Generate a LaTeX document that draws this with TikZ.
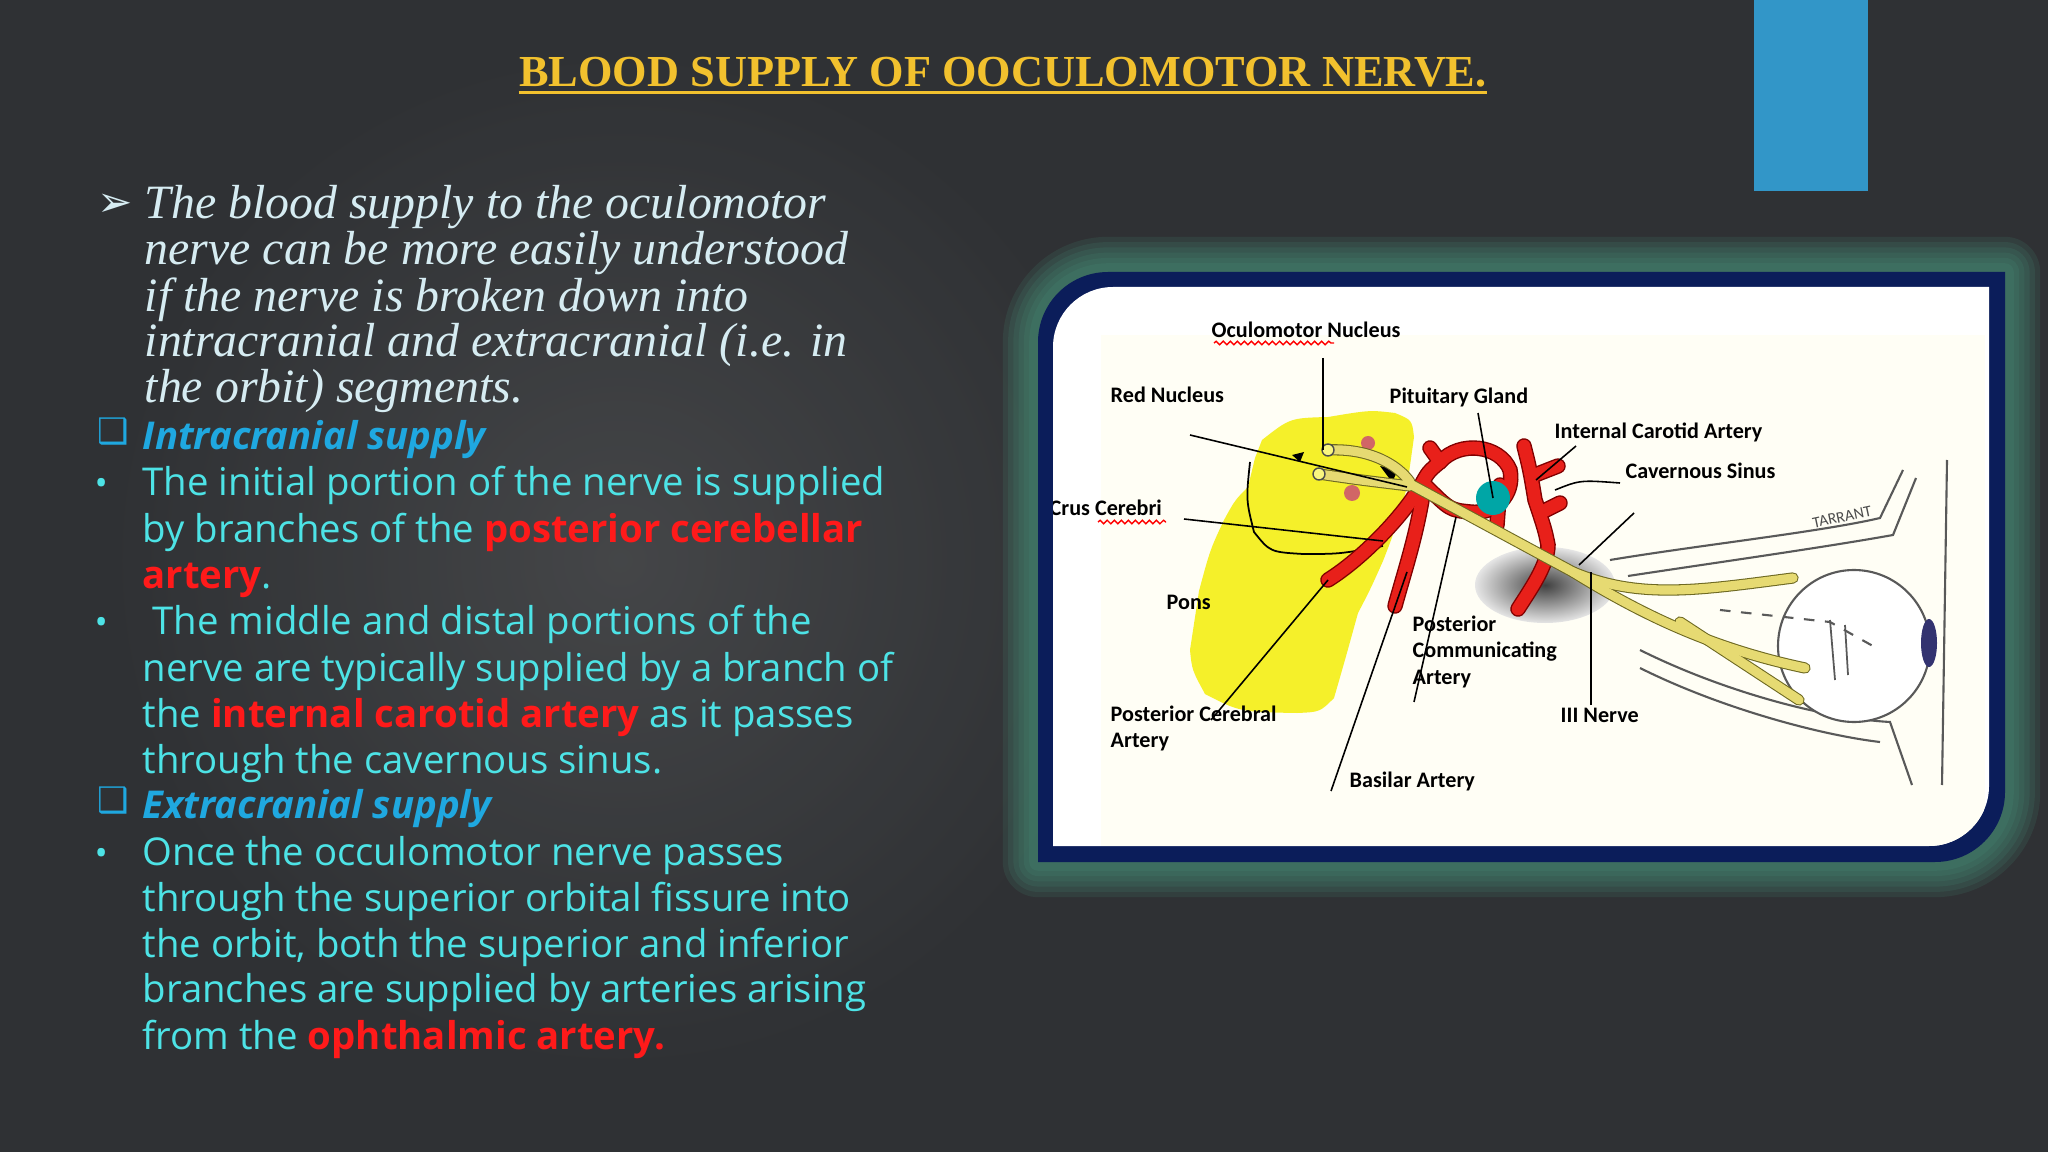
\documentclass[tikz,border=0pt]{standalone}
\usepackage{fontspec}
\setmainfont{Open Sans}
\newfontfamily\itfont{Liberation Serif}
\newfontfamily\symfont{DejaVu Sans}
\newfontfamily\lblfont{Carlito}
\usetikzlibrary{decorations.pathmorphing}
\definecolor{bg}{HTML}{2F3134}
\definecolor{titlec}{HTML}{F2C12E}
\definecolor{cyantx}{HTML}{4DE3E6}
\definecolor{lighttx}{HTML}{D6ECF2}
\definecolor{headc}{HTML}{1FA8E0}
\definecolor{redtx}{HTML}{FF1A1A}
\definecolor{navy}{HTML}{0B1D5A}
\definecolor{glow}{HTML}{4A9A80}
\definecolor{blueblk}{HTML}{3296C8}
\definecolor{yel}{HTML}{F5F02A}
\definecolor{art}{HTML}{E8201A}
\definecolor{nerve}{HTML}{E6DA72}
\tikzset{
 itl/.style={anchor=base west,inner sep=0,text=lighttx,font=\itfont\fontsize{13.6}{14}\selectfont\itshape},
 snl/.style={anchor=base west,inner sep=0,text=cyantx,font=\fontsize{10.9}{12}\selectfont},
 hdl/.style={anchor=base west,inner sep=0,text=headc,font=\fontsize{10.9}{12}\selectfont\bfseries\itshape},
 bul/.style={anchor=base west,inner sep=0,text=cyantx,font=\fontsize{10}{12}\selectfont},
 lbl/.style={anchor=west,inner sep=0,font=\lblfont\bfseries\fontsize{6.3}{7.6}\selectfont,align=left},
 lead/.style={black,line width=0.45pt},
 wavy/.style={red,line width=0.4pt,decorate,decoration={snake,amplitude=0.5pt,segment length=2pt}},
 artery/.style={line width=3.6pt,art,line cap=round},
 arteryo/.style={line width=4.4pt,red!50!black,line cap=round},
 nrv/.style={line width=2.6pt,nerve,line cap=round},
 nrvo/.style={line width=3.2pt,olive!70!black,line cap=round},
 orb/.style={gray!70!black,line width=0.6pt}
}
\newcommand{\rd}[1]{\textcolor{redtx}{\bfseries #1}}
\begin{document}
\begin{tikzpicture}[x=0.01cm,y=-0.01cm]
\useasboundingbox (0,0) rectangle (2048,1152);
\fill[bg] (0,0) rectangle (2048,1152);
\shade[inner color=gray!45!bg,outer color=bg,opacity=0.6] (620,560) circle[radius=520];
\fill[blueblk] (1754,0) rectangle (1868,191);
% title
\node[inner sep=0,anchor=base,text=titlec,font=\itfont\bfseries\fontsize{12.6}{14}\selectfont] (title) at (1003,87) {BLOOD SUPPLY OF OOCULOMOTOR NERVE.};
\draw[titlec,line width=0.8pt] (title.south west)++(0,4) coordinate (u1) -- (u1 -| title.south east);
% left text
\begin{scope}[shift={(0,6)}]
\node[anchor=base west,inner sep=0,text=lighttx,font=\symfont\fontsize{12}{12}\selectfont] (arr) at (97,211) {➢};
\node[itl] (i1) at (144,213) {The blood supply to the oculomotor};
\node[itl] (i2) at (144,259) {nerve can be more easily understood};
\node[itl] (i3) at (144,306) {if the nerve is broken down into};
\node[itl] (i4) at (144,351) {intracranial and extracranial (i.e. in};
\node[itl] (i5) at (144,397) {the orbit) segments.};
\node[anchor=base west,inner sep=0,text=headc,font=\symfont\fontsize{10}{12}\selectfont] (c1) at (97,438) {❑};
\node[hdl] (h1) at (142,444) {Intracranial supply};
\node[bul] (b1) at (94,490) {•};
\node[snl] (s1) at (142,490) {The initial portion of the nerve is supplied};
\node[snl] (s2) at (142,537) {by branches of the \rd{posterior cerebellar}};
\node[snl] (s3) at (142,582) {\rd{artery}.};
\node[bul] (b2) at (94,628) {•};
\node[snl] (s4) at (142,628) {\ The middle and distal portions of the};
\node[snl] (s5) at (142,675) {nerve are typically supplied by a branch of};
\node[snl] (s6) at (142,721) {the \rd{internal carotid artery} as it passes};
\node[snl] (s7) at (142,767) {through the cavernous sinus.};
\node[anchor=base west,inner sep=0,text=headc,font=\symfont\fontsize{10}{12}\selectfont] (c2) at (97,806) {❑};
\node[hdl] (h2) at (142,812) {Extracranial supply};
\node[bul] (b3) at (94,859) {•};
\node[snl] (s8) at (142,859) {Once the occulomotor nerve passes};
\node[snl] (s9) at (142,905) {through the superior orbital fissure into};
\node[snl] (s10) at (142,951) {the orbit, both the superior and inferior};
\node[snl] (s11) at (142,996) {branches are supplied by arteries arising};
\node[snl] (s12) at (142,1043) {from the \rd{ophthalmic artery.}};
\end{scope}
% frame with glow
\def\framepath{(1038,862) -- (1038,342) arc[start angle=180,end angle=270,radius=70] -- (2005,272) -- (2005,792) arc[start angle=0,end angle=90,radius=70] -- cycle}
\foreach \w in {20,17,14,11,8,5}{
 \draw[glow,opacity=0.14,line width=\w pt,line join=round] \framepath;
}
\fill[navy] \framepath;
\def\whitepath{(1053,846) -- (1053,347) arc[start angle=180,end angle=270,radius=60] -- (1989,287) -- (1989,786) arc[start angle=0,end angle=90,radius=60] -- cycle}
\fill[white] \whitepath;
\begin{scope}
\clip \whitepath;
\fill[yellow!4] (1101,335) rectangle (1985,846);
% dark shaded area
\shade[inner color=black!75,outer color=black!10] (1545,585) ellipse[x radius=70,y radius=38];
% orbit
\draw[orb] (1610,560) .. controls (1700,545) and (1820,532) .. (1880,518) -- (1903,470);
\draw[orb] (1628,576) .. controls (1720,562) and (1820,548) .. (1893,535) -- (1916,478);
\draw[orb] (1640,650) .. controls (1720,690) and (1820,718) .. (1890,722) -- (1912,785);
\draw[orb] (1640,668) .. controls (1720,708) and (1820,735) .. (1880,742);
\draw[orb] (1947,460) -- (1942,785);
\node[rotate=12,inner sep=0,font=\lblfont\fontsize{4.5}{5}\selectfont,text=gray!60!black] (tarr) at (1842,517) {TARRANT};
% eye
\draw[gray!70!black,fill=white,line width=0.6pt] (1854,646) circle[radius=76];
\draw[gray!70!black,dashed,line width=0.6pt] (1720,610) -- (1830,622) -- (1880,650);
\draw[gray!70!black,line width=0.5pt] (1830,620) -- (1835,680) (1845,625) -- (1848,675);
\fill[blue!30!black!80] (1929,643) ellipse[x radius=8,y radius=24];
% yellow brainstem
\fill[yel] (1262,440) .. controls (1290,418) .. (1328,417) .. controls (1370,410) .. (1395,413) .. controls (1412,420) .. (1414,437) -- (1407,487) .. controls (1395,530) .. (1383,561) .. controls (1370,590) .. (1358,613) .. controls (1345,660) .. (1334,698) .. controls (1320,712) .. (1297,713) .. controls (1240,712) .. (1205,694) .. controls (1192,670) .. (1190,650) -- (1199,591) .. controls (1210,550) .. (1224,520) .. controls (1235,500) .. (1248,487) -- (1255,458) -- cycle;
\draw[black,line width=0.5pt] (1250,462) .. controls (1246,500) .. (1254,532) .. controls (1270,552) .. (1303,554) .. controls (1340,554) .. (1383,546);
\fill[black] (1292,455) -- (1304,452) -- (1300,462) -- cycle;
\fill[black] (1380,466) -- (1398,470) -- (1392,482) -- cycle;
\fill[red!70!black!60] (1368,443) circle[radius=7] (1352,493) circle[radius=8];
% arteries
\foreach \s in {arteryo,artery}{
 \draw[\s] (1328,580) .. controls (1360,560) and (1400,520) .. (1420,487) .. controls (1428,472) .. (1440,462);
 \draw[\s] (1395,606) .. controls (1405,570) and (1415,540) .. (1422,500);
 \draw[\s] (1440,462) .. controls (1460,440) and (1500,445) .. (1510,470) .. controls (1515,495) and (1495,515) .. (1470,512) .. controls (1450,510) .. (1425,485);
 \draw[\s] (1524,446) .. controls (1530,470) .. (1535,500) .. controls (1545,530) .. (1548,545) .. controls (1548,565) and (1530,590) .. (1518,609);
 \draw[\s] (1535,475) -- (1558,466);
 \draw[\s] (1542,512) -- (1560,503);
 \draw[\s] (1500,485) -- (1497,525);
 \draw[\s] (1440,462) -- (1430,448);
}
\fill[teal!70!cyan] (1493,498) circle[radius=17];
% nerve
\foreach \s in {nrvo,nrv}{
 \draw[\s] (1328,450) .. controls (1370,448) and (1398,465) .. (1410,482);
 \draw[\s] (1319,474) .. controls (1360,480) .. (1410,486);
 \draw[\s] (1410,484) -- (1573,572);
 \draw[\s] (1573,572) .. controls (1640,600) and (1700,590) .. (1793,578);
 \draw[\s] (1573,572) .. controls (1650,620) and (1720,650) .. (1805,668);
 \draw[\s] (1680,622) -- (1799,700);
}
\fill[yel!60!white,draw=black!70,line width=0.4pt] (1328,450) circle[radius=6] (1319,474) circle[radius=6];
% labels
\node[lbl] (lon) at (1211,330) {Oculomotor Nucleus};
\node[lbl] (lrn) at (1110,395) {Red Nucleus};
\node[lbl] (lpg) at (1389,397) {Pituitary Gland};
\node[lbl] (lica) at (1554,432) {Internal Carotid Artery};
\node[lbl] (lcs) at (1625,471) {Cavernous Sinus};
\node[lbl] (lcc) at (1049,508) {Crus Cerebri};
\node[lbl] (lpo) at (1166,602) {Pons};
\node[lbl,anchor=north west] (lpca2) at (1412,615) {Posterior\\Communicating\\Artery};
\node[lbl] (l3n) at (1560,715) {III Nerve};
\node[lbl,anchor=north west] (lpc) at (1110,705) {Posterior Cerebral\\Artery};
\node[lbl] (lba) at (1349,781) {Basilar Artery};
\draw[wavy] (1214,343) -- (1334,343);
\draw[wavy] (1098,522) -- (1166,522);
\coordinate (ton) at (1323,450);
\coordinate (trn) at (1407,487);
\coordinate (tcc) at (1383,541);
\coordinate (tpg) at (1493,498);
\coordinate (tica) at (1536,480);
\coordinate (tcs) at (1579,565);
\coordinate (tpc) at (1328,580);
\coordinate (tpca) at (1456,517);
\coordinate (tba) at (1407,572);
\coordinate (t3n) at (1591,572);
\draw[lead] (1323,358) -- (ton);
\draw[lead] (1190,435) -- (trn);
\draw[lead] (1184,519) -- (tcc);
\draw[lead] (1478,413) -- (tpg);
\draw[lead] (1576,446) -- (tica);
\draw[lead] (1634,513) -- (tcs);
\draw[lead] (1211,720) -- (tpc);
\draw[lead] (1414,702) -- (tpca);
\draw[lead] (1331,791) -- (tba);
\draw[lead] (1591,705) -- (t3n);
\draw[lead] (1555,490) .. controls (1580,480) .. (1620,483);
\end{scope}
\end{tikzpicture}
\end{document}
